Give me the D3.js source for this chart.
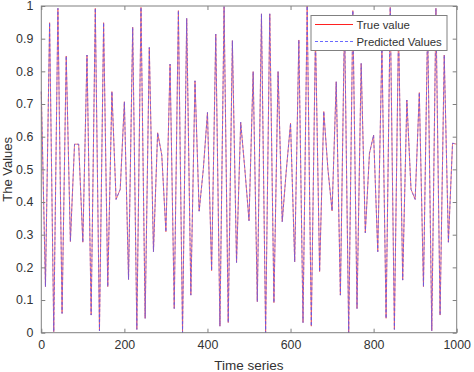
<!DOCTYPE html>
<html>
<head>
<meta charset="utf-8">
<script src="https://cdn.jsdelivr.net/npm/d3@7"></script>
<style>
html,body{margin:0;padding:0;background:#fff;}
svg{display:block;font-family:"Liberation Sans",Arial,sans-serif;}
</style>
</head>
<body>
<svg id="chart" width="474" height="372"></svg>
<script>
// time index (step 10)
const timeSeries = d3.range(0, 1001, 10);
const trueValues = [
 0.738,0.141,0.949,0.003,0.993,0.059,0.847,0.279,0.577,0.577,
 0.277,0.850,0.054,0.993,0.006,0.949,0.141,0.738,0.408,0.439,
 0.707,0.163,0.935,0.010,0.996,0.044,0.873,0.248,0.612,0.544,
 0.309,0.822,0.074,0.986,0.000,0.962,0.115,0.771,0.372,0.500,
 0.674,0.190,0.914,0.020,0.998,0.031,0.894,0.215,0.644,0.500,
 0.343,0.799,0.095,0.976,0.000,0.976,0.092,0.799,0.340,0.500,
 0.641,0.217,0.896,0.031,1.000,0.020,0.914,0.187,0.677,0.500,
 0.373,0.768,0.115,0.962,0.000,0.986,0.074,0.824,0.306,0.549,
 0.605,0.248,0.876,0.044,0.996,0.010,0.935,0.161,0.712,0.439,
 0.408,0.735,0.141,0.949,0.006,0.993,0.054,0.850,0.277,0.580,
 0.577
];
const predictedValues = [
 0.738,0.141,0.949,0.003,0.993,0.059,0.847,0.279,0.577,0.577,
 0.277,0.850,0.054,0.993,0.006,0.949,0.141,0.738,0.408,0.439,
 0.707,0.163,0.935,0.010,0.996,0.044,0.873,0.248,0.612,0.544,
 0.309,0.822,0.074,0.986,0.000,0.962,0.115,0.771,0.372,0.500,
 0.674,0.190,0.914,0.020,0.998,0.031,0.894,0.215,0.644,0.500,
 0.343,0.799,0.095,0.976,0.000,0.976,0.092,0.799,0.340,0.500,
 0.641,0.217,0.896,0.031,1.000,0.020,0.914,0.187,0.677,0.500,
 0.373,0.768,0.115,0.962,0.000,0.986,0.074,0.824,0.306,0.549,
 0.605,0.248,0.876,0.044,0.996,0.010,0.935,0.161,0.712,0.439,
 0.408,0.735,0.141,0.949,0.006,0.993,0.054,0.850,0.277,0.580,
 0.577
];
const xTicks = [0,200,400,600,800,1000];
const yTicks = [0,0.1,0.2,0.3,0.4,0.5,0.6,0.7,0.8,0.9,1];
const legendLabels = ["True value","Predicted Values"];

const svg = d3.select("#chart");
const L = 41.3, R = 456.7, T = 6, B = 332.7;
const x = d3.scaleLinear().domain([0,1000]).range([L,R]);
const y = d3.scaleLinear().domain([0,1]).range([B,T]);
const axisColor = "#808080", textColor = "#333333";
const tickLen = 4;
const redC = "#f24a4a", blueC = "#5a5af0";

// series
const line = d3.line().x((d,i)=>x(timeSeries[i])).y(d=>y(d));
const g = svg.append("g");
g.append("path").datum(trueValues).attr("d", line)
  .attr("fill","none").attr("stroke",redC).attr("stroke-width",0.9).attr("stroke-opacity",0.85);
g.append("path").datum(predictedValues).attr("d", line)
  .attr("fill","none").attr("stroke",blueC).attr("stroke-width",0.9).attr("stroke-opacity",0.85)
  .attr("stroke-dasharray","3,2");

// axes (MATLAB style, ticks inside on all four sides)
function styleAxis(sel){
  sel.select(".domain").remove();
  sel.selectAll(".tick line").attr("stroke",axisColor);
  sel.selectAll(".tick text").attr("fill",textColor).style("font-size","12.4px")
     .style("font-family","'Liberation Sans',Arial,sans-serif");
}
const xb = svg.append("g").attr("transform",`translate(0,${B})`)
  .call(d3.axisBottom(x).tickValues(xTicks).tickSizeInner(-tickLen).tickSizeOuter(0).tickPadding(8).tickFormat(d3.format("d")));
styleAxis(xb);
const xt = svg.append("g").attr("transform",`translate(0,${T})`)
  .call(d3.axisTop(x).tickValues(xTicks).tickSizeInner(-tickLen).tickSizeOuter(0).tickFormat(""));
styleAxis(xt);
const yl = svg.append("g").attr("transform",`translate(${L},0)`)
  .call(d3.axisLeft(y).tickValues(yTicks).tickSizeInner(-tickLen).tickSizeOuter(0).tickPadding(8).tickFormat(d=>d3.format("")(+d.toFixed(1))));
styleAxis(yl);
const yr = svg.append("g").attr("transform",`translate(${R},0)`)
  .call(d3.axisRight(y).tickValues(yTicks).tickSizeInner(-tickLen).tickSizeOuter(0).tickFormat(""));
styleAxis(yr);

// box
svg.append("rect").attr("x",L).attr("y",T).attr("width",R-L).attr("height",B-T)
  .attr("fill","none").attr("stroke",axisColor).attr("stroke-width",1);

// axis labels
svg.append("text").attr("x",(L+R)/2).attr("y",369.5).attr("text-anchor","middle")
  .attr("fill",textColor).style("font-size","13.5px").text("Time series");
svg.append("text").attr("transform",`translate(11.5,${(T+B)/2}) rotate(-90)`)
  .attr("text-anchor","middle").attr("fill",textColor).style("font-size","13px").text("The Values");

// legend
const lg = svg.append("g");
lg.append("rect").attr("x",311).attr("y",15.5).attr("width",136).attr("height",35)
  .attr("fill","#fff").attr("stroke",axisColor).attr("stroke-width",1);
const rows = [{c:"#ff2020",dash:"none",yy:24.5},{c:"#6a6aff",dash:"3,2",yy:41.5}];
rows.forEach((r,i)=>{
  lg.append("line").attr("x1",315).attr("x2",353).attr("y1",r.yy).attr("y2",r.yy)
    .attr("stroke",r.c).attr("stroke-width",1.2).attr("stroke-dasharray",r.dash);
  lg.append("text").attr("x",356.5).attr("y",r.yy+4).attr("fill",textColor)
    .style("font-size","11.4px").text(legendLabels[i]);
});
</script>
</body>
</html>
